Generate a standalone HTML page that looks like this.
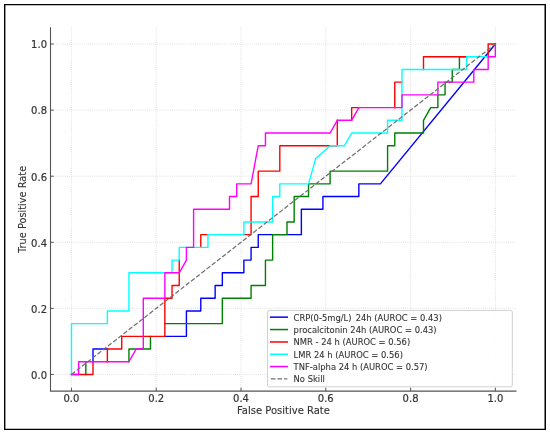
<!DOCTYPE html>
<html><head><meta charset="utf-8"><title>ROC curves</title>
<style>
html,body{margin:0;padding:0;background:#fff;}
svg{display:block;}
text{font-family:"DejaVu Sans", "Liberation Sans", sans-serif;stroke:#333333;stroke-width:0.2px;}
</style></head>
<body>
<svg width="550" height="434" viewBox="0 0 550 434">
<rect x="0" y="0" width="550" height="434" fill="#ffffff"/>
<line x1="71.45" y1="27.33" x2="71.45" y2="391" stroke="#d0d0d0" stroke-width="0.8" stroke-dasharray="0.8 1.3"/>
<line x1="156.23" y1="27.33" x2="156.23" y2="391" stroke="#d0d0d0" stroke-width="0.8" stroke-dasharray="0.8 1.3"/>
<line x1="241.01" y1="27.33" x2="241.01" y2="391" stroke="#d0d0d0" stroke-width="0.8" stroke-dasharray="0.8 1.3"/>
<line x1="325.79" y1="27.33" x2="325.79" y2="391" stroke="#d0d0d0" stroke-width="0.8" stroke-dasharray="0.8 1.3"/>
<line x1="410.57" y1="27.33" x2="410.57" y2="391" stroke="#d0d0d0" stroke-width="0.8" stroke-dasharray="0.8 1.3"/>
<line x1="495.35" y1="27.33" x2="495.35" y2="391" stroke="#d0d0d0" stroke-width="0.8" stroke-dasharray="0.8 1.3"/>
<line x1="50.25" y1="374.48" x2="516.54" y2="374.48" stroke="#d0d0d0" stroke-width="0.8" stroke-dasharray="0.8 1.3"/>
<line x1="50.25" y1="308.39" x2="516.54" y2="308.39" stroke="#d0d0d0" stroke-width="0.8" stroke-dasharray="0.8 1.3"/>
<line x1="50.25" y1="242.3" x2="516.54" y2="242.3" stroke="#d0d0d0" stroke-width="0.8" stroke-dasharray="0.8 1.3"/>
<line x1="50.25" y1="176.21" x2="516.54" y2="176.21" stroke="#d0d0d0" stroke-width="0.8" stroke-dasharray="0.8 1.3"/>
<line x1="50.25" y1="110.12" x2="516.54" y2="110.12" stroke="#d0d0d0" stroke-width="0.8" stroke-dasharray="0.8 1.3"/>
<line x1="50.25" y1="44.03" x2="516.54" y2="44.03" stroke="#d0d0d0" stroke-width="0.8" stroke-dasharray="0.8 1.3"/>
<path d="M93 361.77 L93 349.06 L107.37 349.06M164.85 336.35 L186.41 336.35 L186.41 310.93 L200.78 310.93 L200.78 298.22 L215.14 298.22 L215.14 285.51 L222.33 285.51 L222.33 272.8 L243.88 272.8 L243.88 260.09 L251.07 260.09 L251.07 247.38 L258.25 247.38 L258.25 234.67 L301.36 234.67 L301.36 209.25 L322.92 209.25 L322.92 196.55 L358.84 196.55 L358.84 183.84 L380.39 183.84 L495.35 44.03" fill="none" stroke="#0000ff" stroke-width="1.4" stroke-linejoin="round" stroke-linecap="square"/>
<path d="M85.82 374.48 L85.82 361.77M128.93 361.77 L128.93 349.06 L150.48 349.06 L150.48 336.35M164.85 323.64 L222.33 323.64 L222.33 298.22 L251.07 298.22 L251.07 285.51 L265.44 285.51 L265.44 260.09 L272.62 260.09 L272.62 234.67 L286.99 234.67 L286.99 221.96 L294.18 221.96 L294.18 196.55 L308.55 196.55 L308.55 183.84 L330.1 183.84 L330.1 171.13 L387.58 171.13 L387.58 145.71 L394.76 145.71 L394.76 133 L423.5 133 L423.5 120.29 L430.69 107.58 L437.87 107.58 L437.87 94.87 L445.06 94.87 L445.06 82.16 L452.24 82.16 L452.24 69.45 L459.43 69.45 L459.43 56.74 L466.61 56.74" fill="none" stroke="#008000" stroke-width="1.4" stroke-linejoin="round" stroke-linecap="square"/>
<path d="M71.45 374.48 L93 374.48 L93 361.77M107.37 361.77 L107.37 349.06 L121.74 349.06 L121.74 336.35 L164.85 336.35 L164.85 298.22 L172.04 298.22 L172.04 285.51 L179.22 285.51 L179.22 260.09M200.78 247.38 L200.78 234.67 L207.96 234.67M243.88 234.67 L251.07 234.67 L251.07 196.55 L258.25 196.55 L258.25 171.13 L279.81 171.13 L279.81 145.71 L337.29 145.71 L337.29 120.29M351.66 120.29 L351.66 107.58 L358.84 107.58M394.76 107.58 L394.76 82.16 L401.95 82.16M423.5 69.45 L423.5 56.74 L466.61 56.74M488.17 56.74 L488.17 44.03 L495.35 44.03" fill="none" stroke="#ff0000" stroke-width="1.4" stroke-linejoin="round" stroke-linecap="square"/>
<path d="M71.45 374.48 L71.45 323.64 L107.37 323.64 L107.37 310.93 L128.93 310.93 L128.93 272.8 L172.04 272.8 L172.04 260.09 L179.22 260.09 L179.22 247.38 L207.96 247.38 L207.96 234.67 L243.88 234.67 L243.88 221.96 L272.62 221.96 L272.62 196.55 L279.81 196.55 L279.81 183.84 L308.55 183.84 L315.73 158.42 L330.1 145.71 L344.47 145.71 L351.66 133 L387.58 133 L387.58 120.29 L401.95 120.29 L401.95 69.45 L466.61 69.45 L466.61 56.74 L488.17 56.74" fill="none" stroke="#00ffff" stroke-width="1.4" stroke-linejoin="round" stroke-linecap="square"/>
<path d="M71.45 374.48 L78.63 374.48 L78.63 361.77 L128.93 361.77 L136.11 349.06 L143.3 349.06 L143.3 298.22 L164.85 298.22 L164.85 272.8 L179.22 272.8 L186.41 260.09 L186.41 247.38 L193.59 247.38 L193.59 209.25 L229.51 209.25 L229.51 196.55 L236.7 196.55 L236.7 183.84 L251.07 183.84 L258.25 145.71 L265.44 145.71 L265.44 133 L330.1 133 L337.29 120.29 L351.66 120.29 L358.84 107.58 L401.95 107.58 L401.95 94.87 L437.87 94.87 L437.87 82.16 L473.8 82.16 L473.8 69.45 L488.17 69.45 L488.17 56.74 L495.35 56.74 L495.35 44.03" fill="none" stroke="#ff00ff" stroke-width="1.4" stroke-linejoin="round" stroke-linecap="square"/>
<line x1="71.45" y1="374.48" x2="495.35" y2="44.03" stroke="#707070" stroke-width="1.25" stroke-dasharray="4.6 1.985" stroke-dashoffset="-0.15"/>
<line x1="50.5" y1="27.33" x2="50.5" y2="391.05" stroke="#555555" stroke-width="1.1"/>
<line x1="49.95" y1="391.05" x2="516.54" y2="391.05" stroke="#555555" stroke-width="1.35"/>
<line x1="71.45" y1="391" x2="71.45" y2="387.7" stroke="#444" stroke-width="0.9"/>
<line x1="50.25" y1="374.48" x2="53.75" y2="374.48" stroke="#444" stroke-width="0.9"/>
<line x1="156.23" y1="391" x2="156.23" y2="387.7" stroke="#444" stroke-width="0.9"/>
<line x1="50.25" y1="308.39" x2="53.75" y2="308.39" stroke="#444" stroke-width="0.9"/>
<line x1="241.01" y1="391" x2="241.01" y2="387.7" stroke="#444" stroke-width="0.9"/>
<line x1="50.25" y1="242.3" x2="53.75" y2="242.3" stroke="#444" stroke-width="0.9"/>
<line x1="325.79" y1="391" x2="325.79" y2="387.7" stroke="#444" stroke-width="0.9"/>
<line x1="50.25" y1="176.21" x2="53.75" y2="176.21" stroke="#444" stroke-width="0.9"/>
<line x1="410.57" y1="391" x2="410.57" y2="387.7" stroke="#444" stroke-width="0.9"/>
<line x1="50.25" y1="110.12" x2="53.75" y2="110.12" stroke="#444" stroke-width="0.9"/>
<line x1="495.35" y1="391" x2="495.35" y2="387.7" stroke="#444" stroke-width="0.9"/>
<line x1="50.25" y1="44.03" x2="53.75" y2="44.03" stroke="#444" stroke-width="0.9"/>
<text x="71.45" y="402.0" text-anchor="middle" font-size="10" fill="#333333">0.0</text>
<text x="47" y="378.8" text-anchor="end" font-size="10" fill="#333333">0.0</text>
<text x="156.23" y="402.0" text-anchor="middle" font-size="10" fill="#333333">0.2</text>
<text x="47" y="312.71" text-anchor="end" font-size="10" fill="#333333">0.2</text>
<text x="241.01" y="402.0" text-anchor="middle" font-size="10" fill="#333333">0.4</text>
<text x="47" y="246.62" text-anchor="end" font-size="10" fill="#333333">0.4</text>
<text x="325.79" y="402.0" text-anchor="middle" font-size="10" fill="#333333">0.6</text>
<text x="47" y="180.53" text-anchor="end" font-size="10" fill="#333333">0.6</text>
<text x="410.57" y="402.0" text-anchor="middle" font-size="10" fill="#333333">0.8</text>
<text x="47" y="114.44" text-anchor="end" font-size="10" fill="#333333">0.8</text>
<text x="495.35" y="402.0" text-anchor="middle" font-size="10" fill="#333333">1.0</text>
<text x="47" y="48.35" text-anchor="end" font-size="10" fill="#333333">1.0</text>
<text x="283.45" y="414.3" text-anchor="middle" font-size="10" fill="#333333" style="stroke-width:0.12px">False Positive Rate</text>
<text transform="translate(26.0 209.4) rotate(-90)" x="0" y="0" text-anchor="middle" font-size="9.8" fill="#333333" style="stroke-width:0.12px">True Positive Rate</text>
<rect x="267.5" y="310.45" width="244.8" height="76.35" rx="1.6" fill="#ffffff" fill-opacity="0.88" stroke="#cccccc" stroke-width="0.9"/>
<line x1="270.7" y1="317.15" x2="287.3" y2="317.15" stroke="#0000ff" stroke-width="1.5" stroke-linecap="square"/>
<text x="293.6" y="320.6" font-size="8.38" fill="#333333" style="stroke-width:0.1px">CRP(0-5mg/L)<tspan dx="1.5"> 24h (AUROC = 0.43)</tspan></text>
<line x1="270.7" y1="329.55" x2="287.3" y2="329.55" stroke="#008000" stroke-width="1.5" stroke-linecap="square"/>
<text x="293.6" y="333" font-size="8.38" fill="#333333" style="stroke-width:0.1px">procalcitonin 24h (AUROC = 0.43)</text>
<line x1="270.7" y1="341.95" x2="287.3" y2="341.95" stroke="#ff0000" stroke-width="1.5" stroke-linecap="square"/>
<text x="293.6" y="345.4" font-size="8.38" fill="#333333" style="stroke-width:0.1px">NMR - 24 h (AUROC = 0.56)</text>
<line x1="270.7" y1="354.25" x2="287.3" y2="354.25" stroke="#00ffff" stroke-width="1.5" stroke-linecap="square"/>
<text x="293.6" y="357.7" font-size="8.38" fill="#333333" style="stroke-width:0.1px">LMR 24 h (AUROC = 0.56)</text>
<line x1="270.7" y1="366.55" x2="287.3" y2="366.55" stroke="#ff00ff" stroke-width="1.5" stroke-linecap="square"/>
<text x="293.6" y="370" font-size="8.38" fill="#333333" style="stroke-width:0.1px">TNF-alpha 24 h (AUROC = 0.57)</text>
<line x1="270.7" y1="378.95" x2="287.3" y2="378.95" stroke="#707070" stroke-width="1.25" stroke-dasharray="4.6 1.985" stroke-dashoffset="-0.15"/>
<text x="293.6" y="382.4" font-size="8.38" fill="#333333" style="stroke-width:0.1px">No Skill</text>
<line x1="4" y1="4.65" x2="546" y2="4.65" stroke="#000" stroke-width="1.3"/>
<line x1="4" y1="429.35" x2="546" y2="429.35" stroke="#000" stroke-width="1.2"/>
<line x1="4.7" y1="4" x2="4.7" y2="429.95" stroke="#000" stroke-width="1.4"/>
<line x1="545.25" y1="4" x2="545.25" y2="429.95" stroke="#000" stroke-width="1.5"/>
</svg>
</body></html>
